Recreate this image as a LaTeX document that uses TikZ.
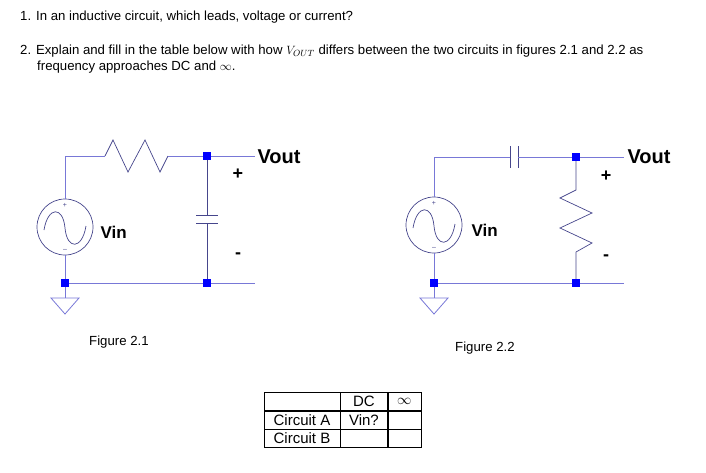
\documentclass[tikz,border=0pt]{standalone}
\usepackage{fontspec}
\setmainfont{Liberation Sans}
\usetikzlibrary{positioning}
\definecolor{wire}{RGB}{120,120,215}
\definecolor{part}{RGB}{70,70,140}
\tikzset{
  wire/.style={draw=wire,line width=0.8pt},
  part/.style={draw=part,line width=0.7pt},
  dot/.style={fill=blue,inner sep=0pt,minimum size=8pt},
  lbl/.style={font=\bfseries\fontsize{20}{20}\selectfont},
  vin/.style={font=\bfseries\fontsize{17}{17}\selectfont},
  sgn/.style={font=\bfseries\fontsize{18}{18}\selectfont},
  txt/.style={font=\fontsize{13.2}{15}\selectfont,anchor=west,inner sep=0pt},
  cell/.style={draw,minimum height=18pt,inner sep=0pt,font=\fontsize{15}{15}\selectfont}
}
\begin{document}
\begin{tikzpicture}[x=1pt,y=-1pt]
  \useasboundingbox (0,0) rectangle (706,472);
  \node[txt] (q1) at (20,17) {1. In an inductive circuit, which leads, voltage or current?};
  \node[txt] (q2) at (20,51) {2. Explain and fill in the table below with how $V_{OUT}$ differs between the two circuits in figures 2.1 and 2.2 as};
  \node[txt] (q2b) at (37,67) {frequency approaches DC and $\infty$.};
  % figure 2.1
  \node[circle,part,minimum size=56pt,inner sep=0pt] (S1) at (65,227) {};
  \draw[part] (44,230) .. controls (48,206) and (63,206) .. (65,228) .. controls (67,250) and (82,250) .. (86,226);
  \node[font=\scriptsize,text=part] at (65,205) {+};
  \node[font=\scriptsize,text=part] at (65,250) {--};
  \coordinate (TL1) at (65,156);
  \coordinate (R1a) at (105,156);
  \coordinate (R1b) at (168,156);
  \node[dot] (A1) at (207,156) {};
  \coordinate (O1) at (255,156);
  \node[dot] (G1) at (65,283) {};
  \node[dot] (B1) at (207,283) {};
  \coordinate (E1) at (255,283);
  \coordinate (C1a) at (207,215);
  \coordinate (C1b) at (207,223);
  \draw[wire] (S1) -- (TL1) -- (R1a);
  \draw[part] (R1a) -- (113,140) -- (128,172) -- (145,140) -- (160,172) -- (R1b);
  \draw[wire] (R1b) -- (A1) -- (O1);
  \draw[wire] (S1) -- (G1) -- (B1) -- (E1);
  \draw[part] (A1) -- (C1a) (C1b) -- (B1);
  \draw[part] (196,215) -- (218,215) (196,223) -- (218,223);
  \draw[wire] (G1) -- (65,298);
  \draw[wire] (51,298) -- (79,298) -- (65,314) -- cycle;
  \node[lbl,anchor=west] (V1) at (254,157) {Vout};
  \node[sgn] (P1) at (238,174) {+};
  \node[sgn] (M1) at (238,256) {-};
  \node[vin,anchor=west] (N1) at (97,232) {Vin};
  \node[txt] (F1) at (89,342) {Figure 2.1};
  % figure 2.2
  \node[circle,part,minimum size=56pt,inner sep=0pt] (S2) at (434,225) {};
  \draw[part] (413,228) .. controls (417,204) and (432,204) .. (434,226) .. controls (436,248) and (451,248) .. (455,224);
  \node[font=\scriptsize,text=part] at (434,203) {+};
  \node[font=\scriptsize,text=part] at (434,248) {--};
  \coordinate (TL2) at (434,157);
  \coordinate (C2a) at (510,157);
  \coordinate (C2b) at (518,157);
  \node[dot] (A2) at (576,157) {};
  \coordinate (O2) at (624,157);
  \node[dot] (G2) at (434,283) {};
  \node[dot] (B2) at (576,283) {};
  \coordinate (E2) at (624,283);
  \coordinate (R2a) at (576,190);
  \coordinate (R2b) at (576,252);
  \draw[wire] (S2) -- (TL2) -- (C2a);
  \draw[part] (510,146) -- (510,168) (518,146) -- (518,168);
  \draw[wire] (C2b) -- (A2) -- (O2);
  \draw[part] (A2) -- (R2a) -- (560,198) -- (592,213) -- (560,228) -- (592,243) -- (R2b) -- (B2);
  \draw[wire] (S2) -- (G2) -- (B2) -- (E2);
  \draw[wire] (G2) -- (434,298);
  \draw[wire] (420,298) -- (448,298) -- (434,314) -- cycle;
  \node[lbl,anchor=west] (V2) at (624,157) {Vout};
  \node[sgn] (P2) at (606,176) {+};
  \node[sgn] (M2) at (606,258) {-};
  \node[vin,anchor=west] (N2) at (468,230) {Vin};
  \node[txt] (F2) at (455,348) {Figure 2.2};
  % table
  \node[cell,minimum width=76pt] (t00) at (302,401.5) {};
  \node[cell,minimum width=47pt,right=0pt of t00] (t01) {DC};
  \node[cell,minimum width=33pt,right=0pt of t01] (t02) {$\infty$};
  \node[cell,minimum width=76pt,below=0pt of t00] (t10) {Circuit A};
  \node[cell,minimum width=47pt,right=0pt of t10] (t11) {Vin?};
  \node[cell,minimum width=33pt,right=0pt of t11] (t12) {};
  \node[cell,minimum width=76pt,below=0pt of t10] (t20) {Circuit B};
  \node[cell,minimum width=47pt,right=0pt of t20] (t21) {};
  \node[cell,minimum width=33pt,right=0pt of t21] (t22) {};
\end{tikzpicture}
\end{document}
